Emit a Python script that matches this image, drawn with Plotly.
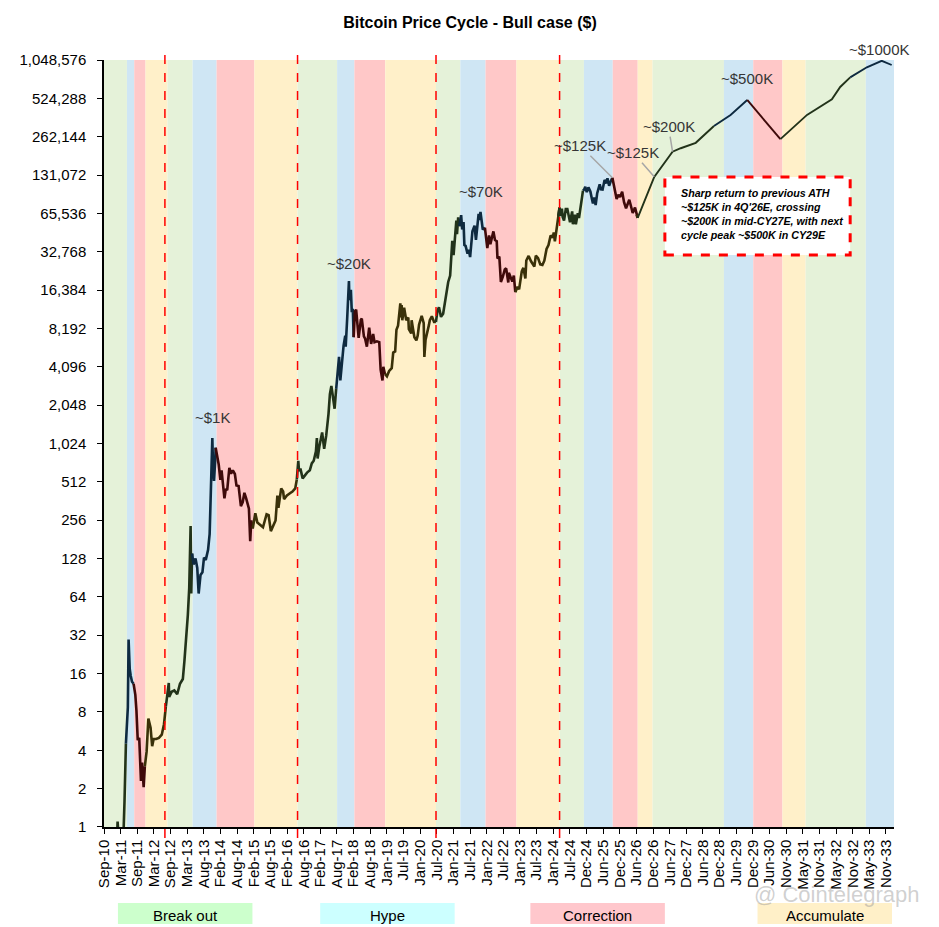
import numpy as np
import pandas as pd
import plotly.graph_objects as go

# ---- historical BTC price (USD) ----
hist_dates = [
    "2010-11-01", "2011-01-20", "2011-02-09", "2011-02-20", "2011-03-15", "2011-04-12", "2011-04-25", "2011-05-10",
    "2011-05-31", "2011-06-08", "2011-06-14", "2011-06-20", "2011-07-01", "2011-07-15", "2011-08-01", "2011-08-20",
    "2011-09-01", "2011-09-15", "2011-10-01", "2011-10-20", "2011-11-01", "2011-11-18", "2011-12-01", "2011-12-20",
    "2012-01-08", "2012-01-20", "2012-02-01", "2012-02-18", "2012-03-05", "2012-04-01", "2012-05-01", "2012-06-01",
    "2012-06-25", "2012-07-15", "2012-08-16", "2012-08-20", "2012-09-15", "2012-10-15", "2012-11-15", "2012-12-15",
    "2013-01-15", "2013-02-01", "2013-02-20", "2013-03-10", "2013-03-25", "2013-04-09", "2013-04-16", "2013-04-25",
    "2013-05-10", "2013-06-01", "2013-06-20", "2013-07-05", "2013-07-25", "2013-08-15", "2013-09-01", "2013-09-20",
    "2013-10-15", "2013-11-01", "2013-11-15", "2013-11-30", "2013-12-07", "2013-12-18", "2013-12-31",
    "2014-01-05", "2014-01-20", "2014-02-07", "2014-02-25", "2014-03-10", "2014-04-10", "2014-04-25", "2014-05-10",
    "2014-06-02", "2014-06-20", "2014-07-10", "2014-08-01", "2014-08-18", "2014-09-10", "2014-09-25", "2014-10-05",
    "2014-10-25", "2014-11-12", "2014-12-01", "2014-12-31",
    "2015-01-14", "2015-01-25", "2015-02-10", "2015-03-10", "2015-04-01", "2015-05-01", "2015-06-01", "2015-07-10",
    "2015-08-01", "2015-08-25", "2015-09-15", "2015-10-15", "2015-11-04", "2015-11-15", "2015-12-15",
    "2016-01-05", "2016-01-15", "2016-02-15", "2016-03-15", "2016-04-15", "2016-05-15", "2016-06-01", "2016-06-17",
    "2016-06-25", "2016-07-10", "2016-08-03", "2016-08-25", "2016-09-20", "2016-10-20", "2016-11-10", "2016-12-01",
    "2016-12-25",
    "2017-01-04", "2017-01-12", "2017-02-01", "2017-03-02", "2017-03-24", "2017-04-15", "2017-05-10", "2017-05-25",
    "2017-06-10", "2017-06-25", "2017-07-15", "2017-08-01", "2017-08-20", "2017-09-01", "2017-09-15", "2017-10-01",
    "2017-10-20", "2017-11-07", "2017-11-12", "2017-11-28", "2017-12-07", "2017-12-17", "2017-12-22", "2017-12-31",
    "2018-01-07", "2018-01-17", "2018-01-28", "2018-02-06", "2018-02-20", "2018-03-05", "2018-03-18", "2018-04-01",
    "2018-04-25", "2018-05-05", "2018-05-28", "2018-06-10", "2018-06-29", "2018-07-24", "2018-08-14", "2018-09-05",
    "2018-09-20", "2018-10-15", "2018-11-10", "2018-11-25", "2018-12-15", "2018-12-24",
    "2019-01-10", "2019-02-01", "2019-02-25", "2019-03-25", "2019-04-10", "2019-05-01", "2019-05-15", "2019-06-01",
    "2019-06-26", "2019-07-02", "2019-07-10", "2019-07-17", "2019-08-06", "2019-08-29", "2019-09-20", "2019-09-26",
    "2019-10-22", "2019-10-26", "2019-11-25", "2019-12-17", "2019-12-31",
    "2020-01-15", "2020-02-12", "2020-03-05", "2020-03-12", "2020-03-25", "2020-04-30", "2020-05-10", "2020-06-01",
    "2020-06-25", "2020-07-15", "2020-08-01", "2020-08-17", "2020-09-08", "2020-10-01", "2020-10-21", "2020-11-05",
    "2020-11-25", "2020-12-16", "2020-12-31",
    "2021-01-08", "2021-01-22", "2021-02-08", "2021-02-21", "2021-02-28", "2021-03-13", "2021-03-25", "2021-04-14",
    "2021-04-25", "2021-05-10", "2021-05-19", "2021-06-01", "2021-06-22", "2021-07-05", "2021-07-20", "2021-08-14",
    "2021-09-06", "2021-09-21", "2021-10-20", "2021-10-28", "2021-11-09", "2021-11-28", "2021-12-04", "2021-12-27",
    "2022-01-05", "2022-01-22", "2022-02-10", "2022-02-24", "2022-03-29", "2022-04-15", "2022-05-04", "2022-05-12",
    "2022-06-01", "2022-06-18", "2022-07-10", "2022-07-30", "2022-08-14", "2022-09-06", "2022-09-12", "2022-10-20",
    "2022-11-05", "2022-11-21", "2022-12-15",
    "2023-01-01", "2023-01-30", "2023-02-16", "2023-03-10", "2023-03-20", "2023-04-14", "2023-05-10", "2023-06-15",
    "2023-07-01", "2023-07-25", "2023-08-18", "2023-09-10", "2023-10-01", "2023-10-25", "2023-11-15", "2023-12-08",
    "2023-12-31",
    "2024-01-11", "2024-01-23", "2024-02-15", "2024-02-28", "2024-03-14", "2024-03-20", "2024-04-08", "2024-04-17",
    "2024-05-01", "2024-05-20", "2024-06-06", "2024-07-05", "2024-07-28", "2024-08-05", "2024-08-25", "2024-09-06",
    "2024-09-27", "2024-10-10", "2024-10-29", "2024-11-12", "2024-11-22", "2024-12-05", "2024-12-17",
    "2025-01-02", "2025-01-20", "2025-02-10", "2025-02-28", "2025-03-10", "2025-03-25", "2025-04-08", "2025-04-25",
    "2025-05-22", "2025-06-05", "2025-06-22", "2025-07-14", "2025-08-02", "2025-08-14", "2025-09-01", "2025-09-18",
    "2025-10-06", "2025-10-20", "2025-11-04", "2025-11-21", "2025-12-10", "2025-12-28",
    "2026-01-20", "2026-02-10", "2026-03-03", "2026-03-20", "2026-04-07", "2026-04-25", "2026-05-14", "2026-06-08",
    "2026-06-25", "2026-07-07",
]
hist_prices = [
    0.2, 0.4, 1.1, 0.85, 0.75, 0.8, 1.6, 4.5,
    8.7, 29.6, 19, 17.5, 15.4, 13.8, 13.3, 10.9,
    8.2, 4.8, 5.0, 2.3, 3.2, 2.05, 3.0, 3.9,
    7.1, 6.4, 6.0, 4.3, 4.9, 4.9, 5.0, 5.3,
    6.4, 8.8, 13.5, 10.5, 11.5, 11.8, 11.0, 13.3,
    14.5, 20, 29, 46, 75, 230, 68, 140,
    115, 128, 108, 68, 95, 100, 130, 125,
    150, 200, 430, 1130, 700, 520, 750,
    950, 830, 700, 530, 630, 380, 450, 440,
    660, 595, 630, 590, 480, 475, 400, 330,
    355, 420, 380, 315,
    175, 255, 220, 290, 245, 235, 225, 285,
    280, 210, 230, 255, 400, 320, 455,
    430, 375, 400, 415, 430, 455, 535, 750,
    620, 650, 545, 578, 605, 630, 715, 750,
    890,
    1130, 780, 980, 1250, 930, 1180, 1750, 2500,
    2900, 2450, 1920, 2750, 4100, 4900, 3200, 4400,
    6000, 7200, 5900, 9800, 16000, 19300, 13800, 14000,
    16500, 11000, 11700, 7000, 11200, 11500, 8200, 6900,
    9600, 9800, 7100, 6800, 5900, 8300, 6200, 7400,
    6400, 6500, 6400, 3900, 3200, 4100,
    3600, 3450, 3800, 4000, 5300, 5400, 8000, 8600,
    12900, 10000, 12500, 9500, 11900, 9500, 10000, 8100,
    7500, 9500, 7000, 6600, 7200,
    8800, 10300, 9000, 4900, 6700, 8700, 9500, 10200,
    9200, 9200, 11300, 12000, 10100, 10700, 12900, 15500,
    19000, 21300, 29000,
    40000, 30800, 46500, 57500, 45000, 61000, 52000, 63500,
    49000, 56000, 37000, 36500, 31700, 34000, 29800, 47500,
    52500, 40700, 65000, 58000, 67500, 55000, 49000, 50700,
    43500, 35000, 44000, 37500, 47400, 40500, 39700, 29000,
    30000, 19000, 21000, 23800, 24300, 18800, 22400, 19100,
    21300, 15800, 17400,
    16600, 23000, 24500, 20200, 28000, 30400, 27600, 25100,
    30600, 29200, 26100, 25800, 27900, 34500, 37000, 44000,
    42300,
    46500, 39600, 52000, 62500, 73000, 62500, 71600, 61300,
    57500, 71000, 71000, 56000, 68000, 54000, 64000, 53900,
    65800, 60300, 72300, 88000, 98900, 101000, 106000,
    96500, 105000, 97400, 84300, 78500, 87500, 76300, 94500,
    111000, 101500, 101000, 120000, 113000, 123500, 108000, 117000,
    125000, 110000, 103000, 85000, 92000, 88000,
    97000, 80000, 72000, 78000, 84000, 75000, 66000, 73000,
    64000, 60500,
]

# ---- bull case projection ----
proj_dates = ["2026-07-07", "2027-01-02", "2027-07-19", "2027-10-16", "2028-03-26", "2028-10-09",
              "2029-04-07", "2029-10-04", "2030-09-28", "2031-07-13", "2032-04-07", "2032-07-06",
              "2032-10-22", "2033-04-20", "2033-09-28", "2034-01-14"]
proj_prices = [60500, 127000, 200000, 213000, 235000, 318000,
               389000, 510000, 251000, 389000, 515000, 645000,
               767000, 920000, 1035000, 959000]

# ---- cycle phases (shaded bands) ----
band_edges = ["2010-09-15", "2011-05-21", "2011-08-08", "2011-12-08", "2012-08-02", "2013-05-01",
              "2014-01-15", "2015-02-28", "2016-06-09", "2017-08-11", "2018-02-14", "2019-01-14",
              "2020-07-16", "2021-04-05", "2022-01-03", "2022-12-03", "2024-03-14", "2024-12-02",
              "2025-10-10", "2026-07-07", "2026-12-15", "2029-01-25", "2029-12-08", "2030-10-20",
              "2031-06-28", "2033-04-09", "2034-02-08"]
band_phases = ["Break out", "Hype", "Correction", "Accumulate"] * 6 + ["Break out", "Hype"]
halving_dates = ["2012-07-05", "2016-06-09", "2020-07-16", "2024-03-14"]

x_tick_labels = ["Sep-10", "Mar-11", "Sep-11", "Mar-12", "Sep-12", "Mar-13", "Aug-13", "Feb-14", "Aug-14",
                 "Feb-15", "Aug-15", "Feb-16", "Aug-16", "Feb-17", "Aug-17", "Feb-18", "Aug-18", "Jan-19",
                 "Jul-19", "Jan-20", "Jul-20", "Jan-21", "Jul-21", "Jan-22", "Jul-22", "Jan-23", "Jul-23",
                 "Jan-24", "Jul-24", "Dec-24", "Jun-25", "Dec-25", "Jun-26", "Dec-26", "Jun-27", "Dec-27",
                 "Jun-28", "Dec-28", "Jun-29", "Dec-29", "Jun-30", "Nov-30", "May-31", "Nov-31", "May-32",
                 "Nov-32", "May-33", "Nov-33"]
y_tick_labels = ["1", "2", "4", "8", "16", "32", "64", "128", "256", "512", "1,024", "2,048", "4,096",
                 "8,192", "16,384", "32,768", "65,536", "131,072", "262,144", "524,288", "1,048,576"]

legend_labels = ["Break out", "Hype", "Correction", "Accumulate"]

band_fill = {"Break out": "#E5F2D9", "Hype": "#CFE6F4", "Correction": "#FFC8C8", "Accumulate": "#FFF0C9"}
legend_fill = {"Break out": "#CCFFCC", "Hype": "#CCFFFF", "Correction": "#FFC7CC", "Accumulate": "#FFF0C8"}
line_col = {"Break out": "#22331a", "Hype": "#0e2a40", "Correction": "#3f0a0a", "Accumulate": "#3a3109"}

FONT = "Liberation Sans, Arial, sans-serif"
W, H = 939, 927
OFF = 8  # the page puts the figure 8px in from the top-left corner
# plot area as it should land in the screenshot (pixels)
PL, PR, PT, PB = 101, 894, 60, 827


def fx(px):
    return (px - PL) / (PR - PL)


def fy(py):
    return (PB - py) / (PB - PT)


def split_by_phase(dates, prices):
    # one segment per band, joined to the previous point so the line stays continuous
    d = pd.to_datetime(dates)
    segs = []
    for i, phase in enumerate(band_phases):
        lo, hi = pd.Timestamp(band_edges[i]), pd.Timestamp(band_edges[i + 1])
        idx = [k for k in range(len(d)) if lo <= d[k] <= hi]
        if not idx:
            continue
        if idx[0] > 0:
            idx = [idx[0] - 1] + idx
        if len(idx) < 2:
            continue
        segs.append((phase, [dates[k] for k in idx], [prices[k] for k in idx]))
    return segs


def peak(dates, prices, lo, hi):
    d = pd.to_datetime(dates)
    best = max((k for k in range(len(d)) if pd.Timestamp(lo) <= d[k] <= pd.Timestamp(hi)),
               key=lambda k: prices[k])
    return dates[best], prices[best]


fig = go.Figure()

for phase, xs, ys in split_by_phase(hist_dates, hist_prices):
    fig.add_trace(go.Scatter(x=xs, y=ys, mode="lines", line=dict(color=line_col[phase], width=2.6),
                             hoverinfo="x+y", showlegend=False))
for phase, xs, ys in split_by_phase(proj_dates, proj_prices):
    fig.add_trace(go.Scatter(x=xs, y=ys, mode="lines", line=dict(color=line_col[phase], width=1.9),
                             hoverinfo="x+y", showlegend=False))

shapes = []
for i, phase in enumerate(band_phases):
    shapes.append(dict(type="rect", xref="x", yref="paper", x0=band_edges[i], x1=band_edges[i + 1],
                       y0=0, y1=1, fillcolor=band_fill[phase], line=dict(width=0), layer="below"))
for hd in halving_dates:
    shapes.append(dict(type="line", xref="x", yref="paper", x0=hd, x1=hd, y0=fy(838), y1=fy(55),
                       line=dict(color="#FF0000", width=1.5, dash="dash")))

# commentary box
shapes.append(dict(type="rect", xref="paper", yref="paper", x0=fx(664), x1=fx(850), y0=fy(255), y1=fy(177),
                   fillcolor="white", line=dict(color="#FF0000", width=3, dash="dash")))

# legend boxes under the axis
legend_left = [115, 318, 529, 757]
annotations = []
for lab, left in zip(legend_labels, legend_left):
    shapes.append(dict(type="rect", xref="paper", yref="paper", x0=fx(left), x1=fx(left + 135),
                       y0=fy(924), y1=fy(903), fillcolor=legend_fill[lab], line=dict(width=0)))
    annotations.append(dict(xref="paper", yref="paper", x=fx(left + 67.5), y=fy(915), text=lab,
                            xanchor="center", yanchor="middle", showarrow=False,
                            font=dict(size=15, color="black", family=FONT)))

annotations.append(dict(
    xref="paper", yref="paper", x=fx(678), y=fy(185), xanchor="left", yanchor="top", align="left",
    text="<b><i>Sharp return to previous ATH<br>~$125K in 4Q'26E, crossing<br>"
         "~$200K in mid-CY27E, with next<br>cycle peak ~$500K in CY29E</i></b>",
    showarrow=False, font=dict(size=10.7, color="black", family=FONT)))

annotations.append(dict(xref="paper", yref="paper", x=fx(836), y=fy(894), text="@ Cointelegraph",
                        xanchor="center", yanchor="middle", showarrow=False,
                        font=dict(size=22, color="rgba(150,150,150,0.45)", family=FONT)))

# price call-outs
lab_font = dict(size=15, color="#353535", family=FONT)
plain = [("~$1K", peak(hist_dates, hist_prices, "2013-10-01", "2014-01-31"), 0, 21),
         ("~$20K", peak(hist_dates, hist_prices, "2017-11-01", "2018-01-31"), 0, 18),
         ("~$70K", peak(hist_dates, hist_prices, "2021-09-01", "2021-12-31"), 1, 20),
         ("~$500K", peak(proj_dates, proj_prices, "2029-01-01", "2030-01-01"), 0, 21),
         ("~$1000K", peak(proj_dates, proj_prices, "2033-01-01", "2034-02-01"), -3, 11)]
for text, (d, p), dx, dy in plain:
    annotations.append(dict(x=d, y=np.log10(p), xref="x", yref="y", text=text, showarrow=False,
                            xshift=dx, yshift=dy, font=lab_font))

leaders = [("~$125K", peak(hist_dates, hist_prices, "2025-09-01", "2025-11-30"), -32, -32),
           ("~$125K", (proj_dates[1], proj_prices[1]), -21, -24),
           ("~$200K", (proj_dates[2], proj_prices[2]), -4, -25)]
for text, (d, p), ax, ay in leaders:
    annotations.append(dict(x=d, y=np.log10(p), xref="x", yref="y", text=text, showarrow=True,
                            arrowhead=0, arrowwidth=1.5, arrowcolor="#A6A6A6", ax=ax, ay=ay,
                            standoff=0, font=lab_font))

x_tickvals = pd.date_range("2010-09-15", periods=len(x_tick_labels), freq="180D")
y_tickvals = [int(s.replace(",", "")) for s in y_tick_labels]

fig.update_layout(
    width=W, height=H,
    margin=dict(l=PL - OFF, r=W - PR + OFF, t=PT - OFF, b=H - PB + OFF),
    plot_bgcolor="white", paper_bgcolor="white",
    font=dict(family=FONT, color="black", size=15),
    title=dict(text="<b>Bitcoin Price Cycle - Bull case ($)</b>", x=(470 - OFF) / W, xanchor="center",
               y=1 - (22 - OFF) / H, yanchor="middle", font=dict(size=16, family=FONT)),
    showlegend=False,
    shapes=shapes,
    annotations=annotations,
    xaxis=dict(type="date", range=[band_edges[0], band_edges[-1]], tickvals=x_tickvals,
               ticktext=x_tick_labels, tickangle=-90, ticks="outside", ticklen=5, tickcolor="black",
               showline=True, linecolor="black", linewidth=1.5, showgrid=False, zeroline=False,
               tickfont=dict(size=15)),
    yaxis=dict(type="log", range=[-0.0005, np.log10(2 ** 20) + 0.0005], tickvals=y_tickvals,
               ticktext=y_tick_labels, ticks="outside", ticklen=5, tickcolor="black",
               showline=True, linecolor="black", linewidth=1.5, showgrid=False, zeroline=False,
               tickfont=dict(size=15), ticklabelstandoff=8),
)

fig.write_html("out.html")
